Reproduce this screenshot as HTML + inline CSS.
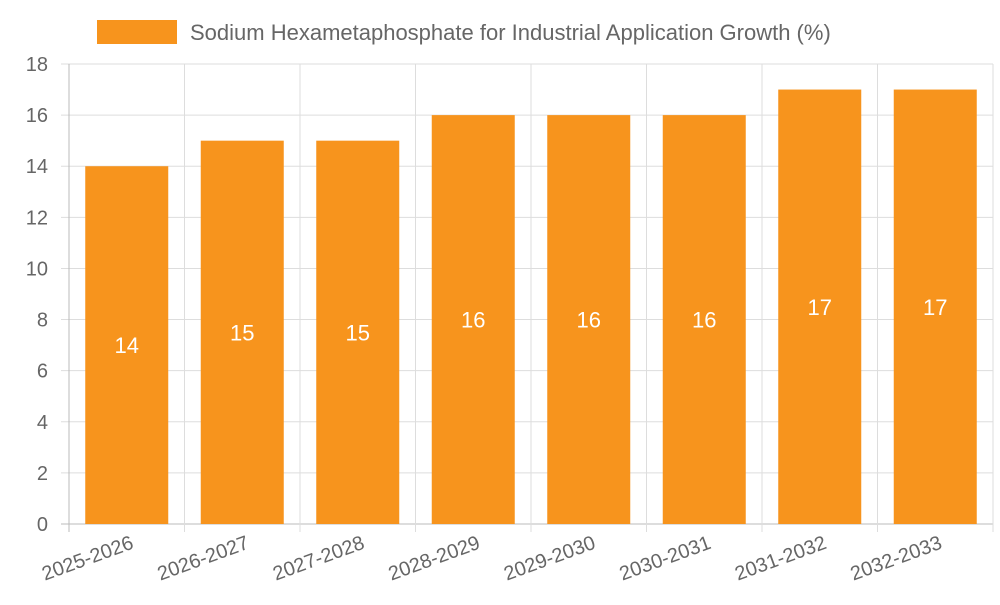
<!DOCTYPE html>
<html><head><meta charset="utf-8"><style>
body{margin:0;background:#fff;width:1000px;height:600px;overflow:hidden}
svg text{font-family:"Liberation Sans",sans-serif}
</style></head><body>
<svg id="chart" width="1000" height="600">
<rect x="97" y="20" width="80" height="24" fill="#F7941D"/>
<text x="190" y="40" font-size="22" fill="#666">Sodium Hexametaphosphate for Industrial Application Growth (%)</text>
<g id="grid"></g><g id="bars"></g><g id="labels"></g>
</svg>
<script>
const categories=["2025-2026","2026-2027","2027-2028","2028-2029","2029-2030","2030-2031","2031-2032","2032-2033"];
const values=[14,15,15,16,16,16,17,17];
const yTicks=[0,2,4,6,8,10,12,14,16,18];
const NS="http://www.w3.org/2000/svg";
const L=69,R=993,T=64,B=524,yMax=18;
const y=v=>B-(v/yMax)*(B-T);
const bw=(R-L)/categories.length;
const x=i=>L+i*bw;
function mk(tag,attrs,parent,txt){const e=document.createElementNS(NS,tag);for(const k in attrs)e.setAttribute(k,attrs[k]);if(txt!==undefined)e.textContent=txt;document.getElementById(parent).appendChild(e);return e;}
yTicks.forEach(t=>{
 const g=mk("line",{x1:L-8,x2:R,y1:y(t),y2:y(t),stroke:t===0?"#bbb":"#ddd","stroke-width":1},"grid");
 
 
 const tl=mk("text",{x:48,y:y(t)+7,"text-anchor":"end","font-size":20,fill:"#666"},"grid",t);
 
 
});
for(let i=0;i<=categories.length;i++){
 const g=mk("line",{x1:x(i),x2:x(i),y1:T,y2:B+8,stroke:i===0?"#bbb":"#ddd","stroke-width":1},"grid");
 
 
}
categories.forEach((c,i)=>{
 const bx=x(i)+(bw-83)/2;
 const r=mk("rect",{x:bx,y:y(values[i]),width:83,height:B-y(values[i]),fill:"#F7941D"},"bars");
 
 
 const vl=mk("text",{x:bx+41.5,y:(y(values[i])+B)/2+8,"text-anchor":"middle","font-size":22,fill:"#fff"},"labels",values[i]);
 
 
 const cx=x(i)+bw/2+8,cy=B+24;
 const xl=mk("text",{x:cx,y:cy,"text-anchor":"end","font-size":20,fill:"#666",transform:`rotate(-20 ${cx} ${cy})`},"labels",c);
 
 
});
</script>
</body></html>
